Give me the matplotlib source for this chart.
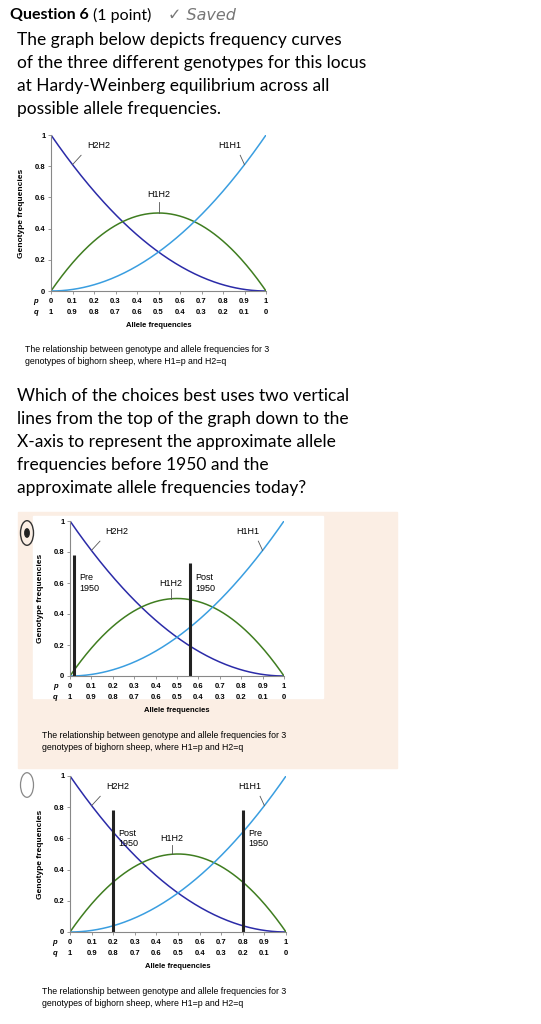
import numpy as np
import matplotlib.pyplot as plt
from matplotlib.patches import Rectangle, Circle

W, H = 541, 1024

p_ticks = [0, 0.1, 0.2, 0.3, 0.4, 0.5, 0.6, 0.7, 0.8, 0.9, 1]
p_labels = ['0', '0.1', '0.2', '0.3', '0.4', '0.5', '0.6', '0.7', '0.8', '0.9', '1']
q_labels = ['1', '0.9', '0.8', '0.7', '0.6', '0.5', '0.4', '0.3', '0.2', '0.1', '0']
y_ticks = [0, 0.2, 0.4, 0.6, 0.8, 1]
y_labels = ['0', '0.2', '0.4', '0.6', '0.8', '1']

q1_lines = ["The graph below depicts frequency curves",
            "of the three different genotypes for this locus",
            "at Hardy-Weinberg equilibrium across all",
            "possible allele frequencies."]
q2_lines = ["Which of the choices best uses two vertical",
            "lines from the top of the graph down to the",
            "X-axis to represent the approximate allele",
            "frequencies before 1950 and the",
            "approximate allele frequencies today?"]
caption = ["The relationship between genotype and allele frequencies for 3",
           "genotypes of bighorn sheep, where H1=p and H2=q"]

# option markers: (p position, top height, label)
opt1_bars = [(0.02, 0.78, 'Pre\n1950'), (0.56, 0.73, 'Post\n1950')]
opt2_bars = [(0.2, 0.78, 'Post\n1950'), (0.8, 0.78, 'Pre\n1950')]

fig = plt.figure(figsize=(W / 100, H / 100), dpi=100)
QF = ['Lato', 'DejaVu Sans']
PF = ['Liberation Sans', 'DejaVu Sans']


def ftext(x, y, s, **kw):
    fig.text(x / W, 1 - y / H, s, **kw)


def curve_plot(x0, x1, y0, y1, bars=None):
    # y0: pixel of value 1, y1: pixel of value 0
    ax = fig.add_axes([x0 / W, 1 - y1 / H, (x1 - x0) / W, (y1 - y0) / H])
    ax.set_zorder(2)
    p = np.linspace(0, 1, 200)
    ax.plot(p, (1 - p) ** 2, color='#2b2ba8', lw=1.1)
    ax.plot(p, 2 * p * (1 - p), color='#3f7d20', lw=1.1)
    ax.plot(p, p ** 2, color='#3a9ee0', lw=1.1)
    ax.set_xlim(0, 1)
    ax.set_ylim(0, 1)
    ax.patch.set_alpha(0)
    for s in ['top', 'right']:
        ax.spines[s].set_visible(False)
    for s in ['left', 'bottom']:
        ax.spines[s].set_color('#888888')
        ax.spines[s].set_linewidth(0.8)
    ax.set_yticks(y_ticks)
    ax.set_yticklabels(y_labels, fontsize=5.5, fontweight='bold', family=PF)
    ax.set_xticks(p_ticks)
    ax.set_xticklabels([])
    ax.tick_params(length=2.5, width=0.6, color='#888888', pad=1.5)
    ax.set_ylabel('Genotype frequencies', fontsize=6, fontweight='bold', family=PF, labelpad=7)
    tk = dict(fontsize=5.5, fontweight='bold', family=PF, ha='center', va='center',
              transform=ax.get_xaxis_transform(), clip_on=False)
    for xv, pl, ql in zip(p_ticks, p_labels, q_labels):
        ax.text(xv, -0.07, pl, **tk)
        ax.text(xv, -0.14, ql, **tk)
    ax.text(-0.07, -0.07, 'p', fontstyle='italic', **tk)
    ax.text(-0.07, -0.14, 'q', fontstyle='italic', **tk)
    ax.text(0.5, -0.22, 'Allele frequencies', **tk)
    lab = dict(fontsize=6.5, family=PF, ha='center', va='center')
    ax.text(0.22, 0.93, 'H2H2', **lab)
    ax.plot([0.1, 0.14], [0.81, 0.87], color='#555555', lw=0.6)
    ax.text(0.83, 0.93, 'H1H1', **lab)
    ax.plot([0.88, 0.9], [0.87, 0.81], color='#555555', lw=0.6)
    if bars is None:
        ax.text(0.5, 0.62, 'H1H2', **lab)
        ax.plot([0.5, 0.5], [0.5, 0.57], color='#555555', lw=0.6)
    else:
        ax.text(0.47, 0.6, 'H1H2', **lab)
        ax.plot([0.47, 0.47], [0.5, 0.56], color='#555555', lw=0.6)
        for xb, top, txt in bars:
            ax.plot([xb, xb], [0, top], color='#222222', lw=2.2, solid_capstyle='butt')
            ax.text(xb + 0.025, 0.6, txt, fontsize=6.5, family=PF, ha='left', va='center')
    return ax


# header
ftext(10, 15, 'Question 6', fontsize=11.5, fontweight='bold', family=QF, va='center')
ftext(93, 15, '(1 point)', fontsize=11.5, family=QF, va='center')
ftext(168, 15, '\u2713 Saved', fontsize=11.5, family=['DejaVu Sans'], style='italic',
      color='#777777', va='center')
for i, s in enumerate(q1_lines):
    ftext(17, 40 + i * 23, s, fontsize=12.5, family=QF, va='center')

curve_plot(51, 266, 135, 291)
for i, s in enumerate(caption):
    ftext(25, 350 + i * 12, s, fontsize=6.3, family=PF, va='center')

for i, s in enumerate(q2_lines):
    ftext(17, 396 + i * 23, s, fontsize=12.5, family=QF, va='center')

# option 1 background
fig.patches.append(Rectangle((18 / W, 1 - 768 / H), (397 - 18) / W, (768 - 512) / H,
                             transform=fig.transFigure, color='#fbeee4', zorder=-2))
fig.patches.append(Rectangle((33 / W, 1 - 698 / H), (323 - 33) / W, (698 - 516) / H,
                             transform=fig.transFigure, color='white', zorder=-1))
fig.patches.append(Circle((27 / W, 1 - 533 / H), 6.5 / W, transform=fig.transFigure,
                          fill=False, ec='#333333', lw=1.0))
fig.patches.append(Circle((27 / W, 1 - 533 / H), 2.2 / W, transform=fig.transFigure,
                          color='#222222'))
fig.patches.append(Circle((27 / W, 1 - 785 / H), 6.5 / W, transform=fig.transFigure,
                          fill=False, ec='#888888', lw=0.9))

curve_plot(70, 284, 521, 676, opt1_bars)
for i, s in enumerate(caption):
    ftext(42, 736 + i * 12, s, fontsize=6.3, family=PF, va='center')

curve_plot(70, 286, 776, 932, opt2_bars)
for i, s in enumerate(caption):
    ftext(42, 991 + i * 12, s, fontsize=6.3, family=PF, va='center')

fig.savefig('out.png', dpi=100)
